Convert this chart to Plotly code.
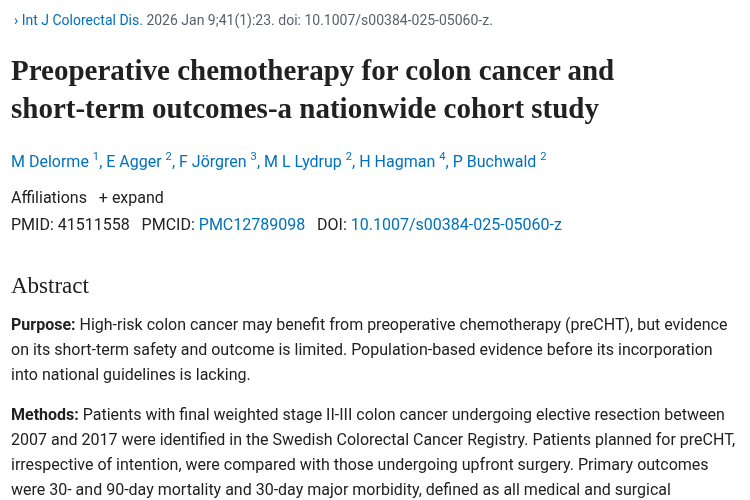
import plotly.graph_objects as go

BLUE = "#0071bc"
TXT = "#212121"
GRAY = "#5b616b"

citation = ("<span style='color:%s'>› Int J Colorectal Dis.</span> 2026 Jan 9;41(1):23. doi: 10.1007/s00384-025-05060-z." % BLUE)
title_lines = ["Preoperative chemotherapy for colon cancer and",
               "short-term outcomes-a nationwide cohort study"]
authors = [("M Delorme", "1"), ("E Agger", "2"), ("F Jörgren", "3"),
           ("M L Lydrup", "2"), ("H Hagman", "4"), ("P Buchwald", "2")]
affil = "Affiliations   <span style='color:%s'>+ expand</span>" % TXT
ids = ("PMID: 41511558   PMCID: <span style='color:%s'>PMC12789098</span>   DOI: "
       "<span style='color:%s'>10.1007/s00384-025-05060-z</span>" % (BLUE, BLUE))
abstract_head = "Abstract"
purpose = ["<b>Purpose:</b> High-risk colon cancer may benefit from preoperative chemotherapy (preCHT), but evidence",
           "on its short-term safety and outcome is limited. Population-based evidence before its incorporation",
           "into national guidelines is lacking."]
methods = ["<b>Methods:</b> Patients with final weighted stage II-III colon cancer undergoing elective resection between",
           "2007 and 2017 were identified in the Swedish Colorectal Cancer Registry. Patients planned for preCHT,",
           "irrespective of intention, were compared with those undergoing upfront surgery. Primary outcomes",
           "were 30- and 90-day mortality and 30-day major morbidity, defined as all medical and surgical",
           "complications classified as Clavien-Dindo IIIb or more. Secondary outcomes were anastomotic leakage"]

fig = go.Figure()
fig.add_trace(go.Scatter(x=[0, 750], y=[0, 500], mode="markers", opacity=0, hoverinfo="skip"))

def add(y, text, size=16, color=TXT, family="Roboto, sans-serif", x=1):
    fig.add_annotation(x=x, y=y, text=text, showarrow=False, xanchor="left", yanchor="middle",
                       font=dict(size=size, color=color, family=family))

add(12, citation, 14, GRAY, x=4)
add(62, "<b>%s</b>" % title_lines[0], 29, TXT, "Liberation Serif, serif")
add(100, "<b>%s</b>" % title_lines[1], 29, TXT, "Liberation Serif, serif")
auth = ", ".join("%s <sup>%s</sup>" % (n, s) for n, s in authors)
add(152, auth, 16, BLUE)
add(189, affil, 16, TXT)
add(216, ids, 16, TXT)
add(277, abstract_head, 23, TXT, "Liberation Serif, serif")
for i, l in enumerate(purpose):
    add(316 + 25 * i, l)
for i, l in enumerate(methods):
    add(406 + 25 * i, l)

fig.update_layout(width=750, height=500, margin=dict(l=0, r=0, t=0, b=0),
                  plot_bgcolor="white", paper_bgcolor="white", showlegend=False,
                  xaxis=dict(range=[0, 750], visible=False, fixedrange=True),
                  yaxis=dict(range=[500, 0], visible=False, fixedrange=True))
fig.write_html("out.html")
